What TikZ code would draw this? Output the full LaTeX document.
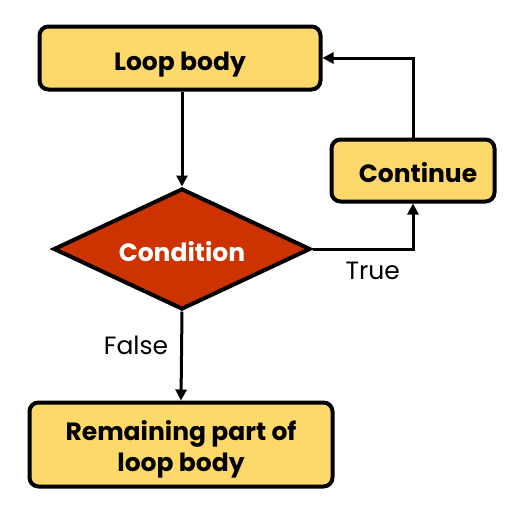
\documentclass[tikz,border=0pt]{standalone}
\usepackage{fontspec}
\setmainfont{Poppins}
\usetikzlibrary{shapes.geometric,arrows.meta}
\definecolor{boxfill}{HTML}{FDD86A}
\definecolor{condfill}{HTML}{CC3300}
\newcommand{\lowerline}[1]{\raisebox{-5pt}[\height][\depth]{#1}}
\begin{document}
\begin{tikzpicture}[x=1pt,y=-1pt,
  box/.style={draw=black, line width=4pt, rounded corners=9pt, fill=boxfill,
    font=\fontsize{25}{31}\selectfont\bfseries, inner sep=0pt, align=center},
  oneline/.style={text height=24pt, text depth=0pt},
  cond/.style={diamond, aspect=2.1, draw=black, line width=4pt, fill=condfill, text=white,
    minimum width=257pt, minimum height=121pt, inner sep=0pt,
    text height=24pt, text depth=0pt,
    font=\fontsize{25}{30}\selectfont\bfseries},
  conn/.style={line width=3pt, -{Triangle[length=11pt,width=11pt]}},
  lbl/.style={font=\fontsize{25}{30}\selectfont, inner sep=0pt}]
\useasboundingbox (0,0) rectangle (523,512);
\node[box, oneline, minimum width=281pt, minimum height=63pt] (loop) at (180,58) {Loop body};
\node[box, oneline, minimum width=163pt, minimum height=62pt] (cont) at (413,170.5) {\hspace*{10pt}Continue};
\node[cond] (cond) at (182,249) {Condition};
\node[box, minimum width=303pt, minimum height=84pt] (rem) at (181,444.5) {\lowerline{Remaining part of}\\\lowerline{loop body}};
\draw[conn] (loop.south -| cond.north) -- (cond.north);
\draw[conn] (cond.east) -| (cont.south) node[lbl, pos=0.3, below=12pt] {True};
\draw[conn] (cont.north) |- (loop.east);
\draw[conn] (cond.south) -- (rem.north) node[lbl, pos=0.38, left=12pt] {False};
\end{tikzpicture}
\end{document}
